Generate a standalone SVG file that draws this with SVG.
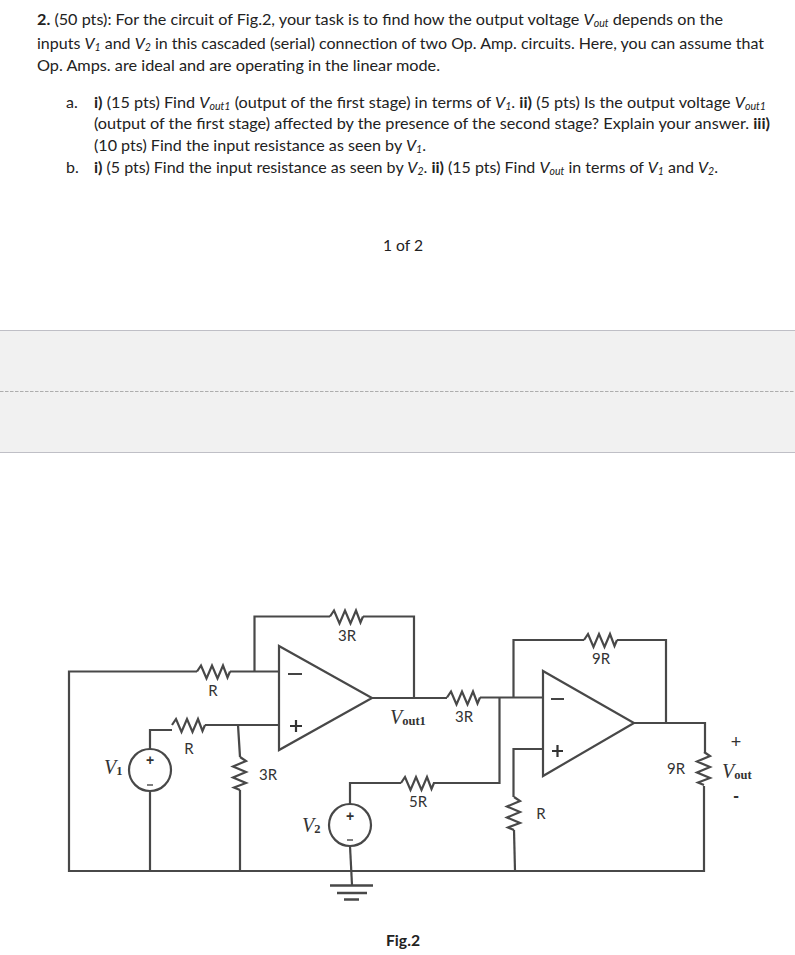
<svg xmlns="http://www.w3.org/2000/svg" width="795" height="955" viewBox="0 0 795 955">
<style>
.t{font-family:"Lato","Carlito","Liberation Sans",sans-serif;font-size:16px;fill:#222}
.b{font-weight:700}
.i{font-style:italic}
.s{font-size:10.5px;font-style:italic}
.c{font-family:"Lato","Liberation Sans",sans-serif;font-size:15px;fill:#333}
.m{font-family:"Liberation Serif",serif;font-style:italic;font-size:20px;fill:#333}
.mb{font-family:"Liberation Serif",serif;font-style:normal;font-weight:700;font-size:12.5px;fill:#333}
.w{fill:none;stroke:#484848;stroke-width:2.2;stroke-linejoin:miter}
.sym{fill:#333;font-family:"Liberation Sans",sans-serif;font-weight:700}
</style>
<defs>
<path id="rz" class="w" d="M0 0L4 -6L9.5 7L15 -6L20.5 7L26 -6L30.5 6L33 0"/>
<path id="rv" class="w" d="M0 0L6 4L-7 9.5L6 15L-7 20.5L6 26L-6 30.5L0 33"/>
</defs>
<rect width="795" height="955" fill="#fff"/>
<g id="page-band">
<rect x="0" y="331" width="795" height="121" fill="#f1f1f1"/>
<path d="M0 330.500H795M0 452.500H795" stroke="#bfbfc6" stroke-width="1.200" fill="none"/>
<path d="M0 391.500H795" stroke="#aeaeae" stroke-width="1.200" stroke-dasharray="3.500 1.500" fill="none"/>
</g>
<g id="question">
<text class="t" x="37" y="25" textLength="686" lengthAdjust="spacingAndGlyphs"><tspan class="b">2.</tspan>  (50 pts): For the circuit of Fig.2, your task is to find how the output voltage <tspan class="i">V</tspan><tspan class="s" dy="2">out</tspan><tspan dy="-2"> depends on the</tspan></text>
<text class="t" x="37" y="49" textLength="727" lengthAdjust="spacingAndGlyphs">inputs <tspan class="i">V</tspan><tspan class="s" dy="2">1</tspan><tspan dy="-2"> and </tspan><tspan class="i">V</tspan><tspan class="s" dy="2">2</tspan><tspan dy="-2"> in this cascaded (serial) connection of two Op. Amp. circuits. Here, you can assume that</tspan></text>
<text class="t" x="37" y="71" textLength="403" lengthAdjust="spacingAndGlyphs">Op. Amps. are ideal and are operating in the linear mode.</text>
<text class="t" x="66" y="108">a.</text>
<text class="t" x="94" y="108" textLength="672" lengthAdjust="spacingAndGlyphs"><tspan class="b">i)</tspan> (15 pts) Find <tspan class="i">V</tspan><tspan class="s" dy="2">out1</tspan><tspan dy="-2"> (output of the first stage) in terms of </tspan><tspan class="i">V</tspan><tspan class="s" dy="2">1</tspan><tspan dy="-2">. </tspan><tspan class="b">ii)</tspan> (5 pts) Is the output voltage <tspan class="i">V</tspan><tspan class="s" dy="2">out1</tspan></text>
<text class="t" x="94" y="129" textLength="676" lengthAdjust="spacingAndGlyphs">(output of the first stage) affected by the presence of the second stage? Explain your answer. <tspan class="b">iii)</tspan></text>
<text class="t" x="94" y="151" textLength="332" lengthAdjust="spacingAndGlyphs">(10 pts) Find the input resistance as seen by <tspan class="i">V</tspan><tspan class="s" dy="2">1</tspan><tspan dy="-2">.</tspan></text>
<text class="t" x="66" y="173">b.</text>
<text class="t" x="94" y="173" textLength="624" lengthAdjust="spacingAndGlyphs"><tspan class="b">i)</tspan> (5 pts) Find the input resistance as seen by <tspan class="i">V</tspan><tspan class="s" dy="2">2</tspan><tspan dy="-2">. </tspan><tspan class="b">ii)</tspan> (15 pts) Find <tspan class="i">V</tspan><tspan class="s" dy="2">out</tspan><tspan dy="-2"> in terms of </tspan><tspan class="i">V</tspan><tspan class="s" dy="2">1</tspan><tspan dy="-2"> and </tspan><tspan class="i">V</tspan><tspan class="s" dy="2">2</tspan><tspan dy="-2">.</tspan></text>
<text class="t" x="383" y="251" textLength="40" lengthAdjust="spacingAndGlyphs">1 of 2</text>
</g>
<g id="connectors">
<path class="w" d="M197 671.500H69V871H704V786"/>
<path class="w" d="M230 671.500H279"/>
<path class="w" d="M254.500 671.500V616.500H330"/>
<path class="w" d="M363 616.500H414V698"/>
<path class="w" d="M372 698H447"/>
<path class="w" d="M480 697.500H543"/>
<path class="w" d="M150 749V730H172"/>
<path class="w" d="M205 725H279"/>
<path class="w" d="M238 725L240 757"/>
<path class="w" d="M240 790V871"/>
<path class="w" d="M150 791V871"/>
<path class="w" d="M350 846L352 885"/>
<path class="w" d="M350 804V783H401"/>
<path class="w" d="M433 783H499.500V697.500"/>
<path class="w" d="M513.500 697.500V640H584"/>
<path class="w" d="M617 640H666V723"/>
<path class="w" d="M634 723H705V752"/>
<path class="w" d="M543 749H513.500V797"/>
<path class="w" d="M514 830L515 871"/>
</g>
<g id="opamp1">
<path class="w" d="M279 646L372 698L279 750Z"/>
<path d="M288 674H302" stroke="#444" stroke-width="2"/>
<path d="M290 726H302M296 720V732" stroke="#333" stroke-width="2.200"/>
</g>
<g id="opamp2">
<path class="w" d="M543 671L634 723L543 776Z"/>
<path d="M551 699H564" stroke="#444" stroke-width="2"/>
<path d="M552 751H563M557.500 745V757" stroke="#333" stroke-width="2.200"/>
</g>
<g id="R1"><use href="#rz" x="197" y="671.500"/><text class="c" x="213" y="696" text-anchor="middle">R</text></g>
<g id="R2"><use href="#rz" x="172" y="725"/><text class="c" x="189" y="754" text-anchor="middle">R</text></g>
<g id="R3"><use href="#rv" x="240" y="757"/><text class="c" x="268" y="780" text-anchor="middle">3R</text></g>
<g id="R4"><use href="#rz" x="330" y="616.500"/><text class="c" x="347" y="641" text-anchor="middle">3R</text></g>
<g id="R5"><use href="#rz" x="447" y="697.500"/><text class="c" x="464" y="722" text-anchor="middle">3R</text></g>
<g id="R6"><use href="#rz" x="401" y="783"/><text class="c" x="418" y="807" text-anchor="middle">5R</text></g>
<g id="R7"><use href="#rv" x="514" y="797"/><text class="c" x="541" y="819" text-anchor="middle">R</text></g>
<g id="R8"><use href="#rz" x="584" y="640"/><text class="c" x="601" y="664" text-anchor="middle">9R</text></g>
<g id="R9"><use href="#rv" x="704" y="752"/><text class="c" x="676" y="774" text-anchor="middle">9R</text></g>
<g id="V1">
<circle class="w" cx="150" cy="770" r="21"/>
<text class="sym" x="150" y="765" font-size="14" text-anchor="middle">+</text>
<path d="M147 785H153" stroke="#555" stroke-width="1.500"/>
<text class="m" x="104" y="774">V<tspan class="mb" dy="1">1</tspan></text>
</g>
<g id="V2">
<circle class="w" cx="350" cy="825" r="21"/>
<text class="sym" x="350" y="821" font-size="14" text-anchor="middle">+</text>
<path d="M347 840H353" stroke="#555" stroke-width="1.500"/>
<text class="m" x="302" y="832">V<tspan class="mb" dy="1">2</tspan></text>
</g>
<g id="ground">
<path d="M330 885.500H373M337 893H367M344 899.500H359" stroke="#484848" stroke-width="2.400" fill="none"/>
</g>
<g id="Vout1-label"><text class="m" x="390" y="724" font-size="18">V<tspan class="mb" dy="1">out1</tspan></text></g>
<g id="Vout-label">
<text x="736" y="748" font-family="Liberation Sans,sans-serif" font-size="18" fill="#333" text-anchor="middle">+</text>
<text class="m" x="722" y="778">V<tspan class="mb" dy="1">out</tspan></text>
<text x="736" y="801" font-family="Liberation Sans,sans-serif" font-size="17" font-weight="700" fill="#333" text-anchor="middle">-</text>
</g>
<g id="caption"><text class="t b" x="386" y="946" textLength="34" lengthAdjust="spacingAndGlyphs">Fig.2</text></g>
</svg>
